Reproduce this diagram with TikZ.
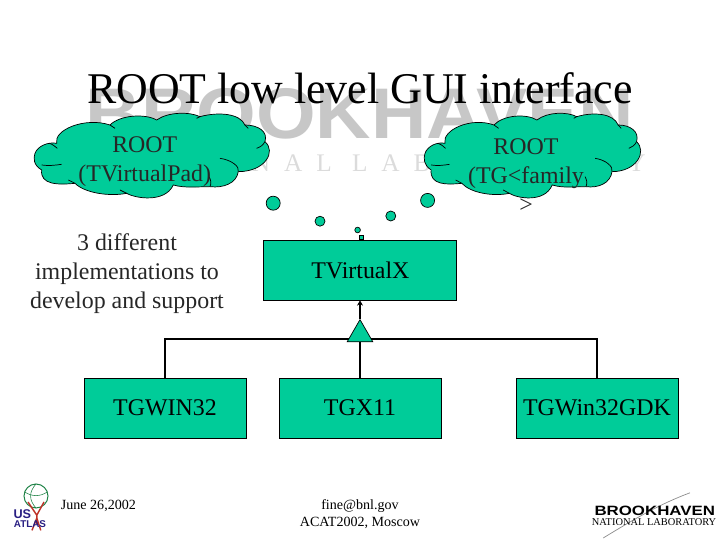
\documentclass[tikz,border=0pt]{standalone}
\usepackage{fontspec}
\setmainfont{Liberation Serif}
\newfontfamily\marksans{Liberation Sans}
\newfontfamily\markwide[LetterSpace=55]{Liberation Serif}
\usetikzlibrary{positioning,arrows.meta,shapes.geometric}
\definecolor{bnlgreen}{RGB}{0,204,153}
\definecolor{atlasblue}{RGB}{40,30,130}
\definecolor{atlasred}{RGB}{190,50,40}
\definecolor{atlasgreen}{RGB}{30,130,70}

\begin{document}
\begin{tikzpicture}[
  font=\fontsize{17}{20.6}\selectfont,
  cls/.style={draw=black, fill=bnlgreen, line width=0.6pt, minimum height=1.5cm, minimum width=4.05cm, inner sep=0pt},
  bubble/.style={circle, draw=black, fill=bnlgreen, line width=0.5pt, inner sep=0pt},
  body/.style={align=center, text=black!85},
  foot/.style={align=center, font=\fontsize{10}{12}\selectfont},
  link/.style={draw=black, line width=1.4pt},
  cloudpuff/.pic={
    \begin{scope}[x=0.00833cm, y=-0.00833cm]
      \draw[fill=bnlgreen, line width=0.5pt] (0,0)
        .. controls (8,-22) and (40,-35) .. (65,-30)
        .. controls (55,-70) and (150,-110) .. (225,-85)
        .. controls (255,-115) and (330,-120) .. (365,-100)
        .. controls (400,-125) and (465,-125) .. (495,-110)
        .. controls (550,-125) and (615,-120) .. (630,-85)
        .. controls (670,-85) and (700,-65) .. (690,-35)
        .. controls (725,-5) and (690,55) .. (610,55)
        .. controls (605,90) and (565,105) .. (525,100)
        .. controls (490,100) and (450,105) .. (415,95)
        .. controls (390,150) and (300,135) .. (275,120)
        .. controls (225,130) and (150,120) .. (120,90)
        .. controls (70,95) and (15,95) .. (20,50)
        .. controls (-5,35) and (-5,15) .. (0,0) -- cycle;
      \draw[line width=0.5pt] (43,-30) .. controls (50,-28) and (60,-22) .. (67,-15);
      \draw[line width=0.5pt] (20,35) .. controls (40,38) and (60,36) .. (80,33);
      \draw[line width=0.5pt] (120,90) -- (100,80);
      \draw[line width=0.5pt] (225,-85) -- (240,-75);
      \draw[line width=0.5pt] (495,-110) -- (485,-105);
      \draw[line width=0.5pt] (630,-85) -- (640,-75);
      \draw[line width=0.5pt] (690,-35) .. controls (685,-25) and (675,-18) .. (665,-15);
      \draw[line width=0.5pt] (555,15) .. controls (590,20) and (615,40) .. (610,55);
      \draw[line width=0.5pt] (525,100) .. controls (530,90) and (528,80) .. (522,70);
      \draw[line width=0.5pt] (275,120) -- (255,110);
    \end{scope}
  },
]

\useasboundingbox (0,0) rectangle (18,13.5);

% watermark
\node[font=\marksans\bfseries\fontsize{51}{51}\selectfont, text=black!22, xscale=1.07] (markbig) at (9,10.65) {BROOKHAVEN};
\node[font=\markwide\fontsize{18}{18}\selectfont, text=black!14] (marksmall) at (9.4,9.43) {NATIONAL LABORATORY};

\node[font=\fontsize{31.2}{31.2}\selectfont, anchor=base] (title) at (9,10.9) {ROOT low level GUI interface};

\pic at (0.875,9.667) {cloudpuff};
\pic[xscale=0.92] at (10.625,9.667) {cloudpuff};

\node[body] (padtxt) at (3.62,9.47) {ROOT\\(TVirtualPad)};
\node[body] (tgtxt) at (13.15,9.12) {ROOT\\(TG<family\\>};

\node[bubble, minimum size=0.35cm] (b1) at (6.83,8.42) {};
\node[bubble, minimum size=0.25cm] (b2) at (8,7.97) {};
\node[bubble, minimum size=0.14cm] (b3) at (8.94,7.75) {};
\node[bubble, minimum size=0.35cm] (b4) at (10.69,8.49) {};
\node[bubble, minimum size=0.25cm] (b5) at (9.77,8.1) {};
\node[draw=black, fill=bnlgreen, line width=0.4pt, inner sep=0pt, minimum size=0.1cm] (b6) at (9.03,7.57) {};

\node[cls, minimum width=4.825cm] (virtx) at (9.01,6.75) {TVirtualX};
\node[cls] (win32) at (4.125,3.3) {TGWIN32};
\node[cls] (x11) at (9,3.3) {TGX11};
\node[cls] (gdk) at (14.925,3.3) {TGWin32GDK};

\node[body] (impl) at (3.175,6.655) {3 different\\implementations to\\develop and support};

\coordinate (bar) at (9,5.025);
\draw[link] (win32.north) |- (bar) -| (gdk.north);

\node[regular polygon, regular polygon sides=3, draw=black, fill=bnlgreen, line width=0.5pt, inner sep=0pt, minimum size=0.74cm] (tri) at (9,5.14) {};
\draw[link] (tri.side 2) -- (x11.north);
\draw[link, -{Stealth[length=1.3mm,width=1.5mm]}] (tri.corner 1) -- (virtx.south -| tri.corner 1);

\node[foot] (date) at (2.46,0.85) {June 26,2002};
\node[foot] (place) at (9,0.65) {fine@bnl.gov\\ACAT2002, Moscow};

% logos
\draw[atlasgreen, line width=0.7pt] (0.9,1.1) circle (0.3);
\draw[atlasgreen, line width=0.4pt] (0.9,1.4) .. controls (0.72,1.2) and (0.72,1) .. (0.9,0.8);
\draw[atlasgreen, line width=0.4pt] (0.62,1.2) .. controls (0.8,1.08) and (1,1.08) .. (1.18,1.2);
\draw[atlasred, line width=1pt] (0.7,0.95) -- (0.92,0.62) -- (1.1,0.95) (0.92,0.62) -- (0.92,0.4) (0.92,0.55) -- (0.8,0.24) (0.92,0.55) -- (1.02,0.24);
\node[font=\marksans\bfseries\fontsize{9}{9}\selectfont, text=atlasblue, inner sep=0pt] (usmark) at (0.56,0.65) {US};
\node[font=\marksans\bfseries\fontsize{7}{7}\selectfont, text=atlasblue, inner sep=0pt] (atlasmark) at (0.75,0.4) {ATLAS};

\draw[black!45, line width=0.5pt] (15.08,0.05) .. controls (15.9,0.55) and (16.5,0.9) .. (17.25,1.18);
\node[font=\marksans\bfseries\fontsize{12}{12}\selectfont, inner sep=0pt, yscale=0.8] (bnlmark) at (16.37,0.73) {BROOKHAVEN};
\node[font=\fontsize{7.4}{7.4}\selectfont, inner sep=0pt] (natmark) at (16.35,0.45) {NATIONAL LABORATORY};

\end{tikzpicture}
\end{document}
